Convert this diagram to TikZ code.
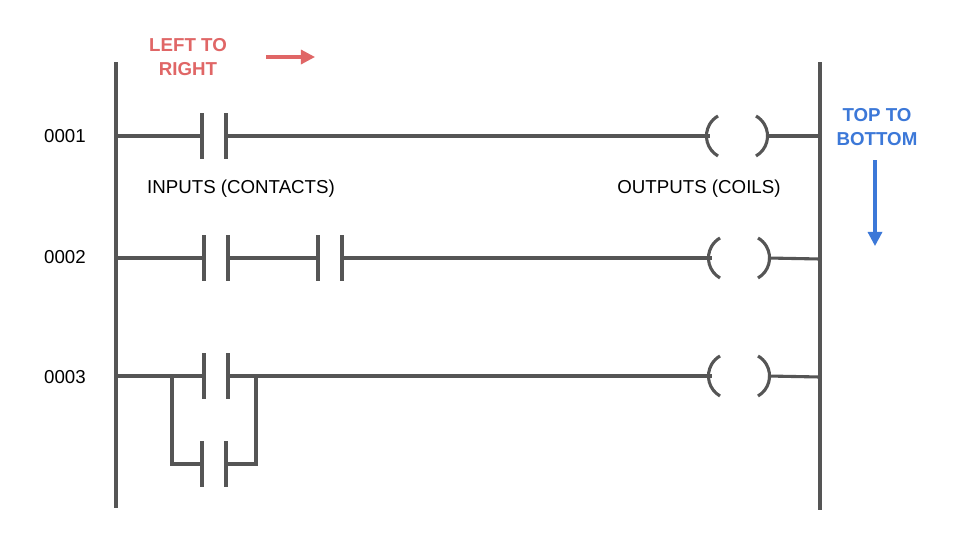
\documentclass[tikz,border=0pt]{standalone}
\usepackage{fontspec}
\setmainfont{Liberation Sans}
\usetikzlibrary{arrows.meta}
\definecolor{ln}{HTML}{555555}
\definecolor{redc}{HTML}{E06666}
\definecolor{bluec}{HTML}{3C78D8}
\begin{document}
\begin{tikzpicture}[x=0.025cm,y=-0.025cm,
  wire/.style={ln,line width=2.2pt},
  rail/.style={ln,line width=2.4pt},
  lbl/.style={font=\fontsize{13.3}{15}\selectfont,text=black,inner sep=0pt},
  note/.style={font=\bfseries\fontsize{13.3}{16.5}\selectfont,align=center,inner sep=0pt}]
\useasboundingbox (0,0) rectangle (960,540);
\fill[white] (0,0) rectangle (960,540);
% rails
\coordinate (lt) at (116,62); \coordinate (lb) at (116,508);
\coordinate (rt) at (820,62); \coordinate (rb) at (820,510);
\draw[rail] (lt) -- (lb);
\draw[rail] (rt) -- (rb);
\newcommand{\contact}[3]{% x1,x2,y
  \draw[wire] (#1,#3-23) -- (#1,#3+23);
  \draw[wire] (#2,#3-23) -- (#2,#3+23);}
\newcommand{\coil}[2]{% xleft,y
  \draw[wire] (#1+10,#2+20) arc[start angle=120,end angle=240,radius=23.1];
  \draw[wire] (#1+48,#2+20) arc[start angle=60,end angle=-60,radius=23.1];}
% rung 1
\contact{202}{226}{136}
\coil{708}{136}
\draw[wire] (116,136) -- (202,136);
\draw[wire] (226,136) -- (710,136);
\draw[wire] (766,136) -- (820,136);
% rung 2
\contact{204}{228}{258}
\contact{318}{342}{258}
\coil{710}{258}
\draw[wire] (116,258) -- (204,258);
\draw[wire] (228,258) -- (318,258);
\draw[wire] (342,258) -- (712,258);
\draw[wire] (768,258) -- (820,259);
% rung 3
\contact{204}{228}{376}
\contact{202}{226}{464}
\coil{710}{376}
\draw[wire] (116,376) -- (204,376);
\draw[wire] (228,376) -- (712,376);
\draw[wire] (768,376) -- (820,377);
\draw[wire] (172,376) -- (172,464) -- (202,464);
\draw[wire] (226,464) -- (256,464) -- (256,376);
% labels
\node[lbl] (r1) at (65,136) {0001};
\node[lbl] (r2) at (65,257) {0002};
\node[lbl] (r3) at (65,377) {0003};
\node[lbl] (in) at (241,189) {INPUTS (CONTACTS)};
\node[lbl] (out) at (699,189) {OUTPUTS (COILS)};
\node[note,text=redc] (ltr) at (188,57) {LEFT TO\\RIGHT};
\coordinate (ra) at (266,57); \coordinate (rb2) at (315,57);
\draw[redc,line width=2.2pt,-{Triangle[length=10pt,width=10pt]}] (ra) -- (rb2);
\node[note,text=bluec] (ttb) at (877,127) {TOP TO\\BOTTOM};
\coordinate (ba) at (875,160); \coordinate (bb) at (875,246);
\draw[bluec,line width=2.2pt,-{Triangle[length=10pt,width=10pt]}] (ba) -- (bb);
\end{tikzpicture}
\end{document}
